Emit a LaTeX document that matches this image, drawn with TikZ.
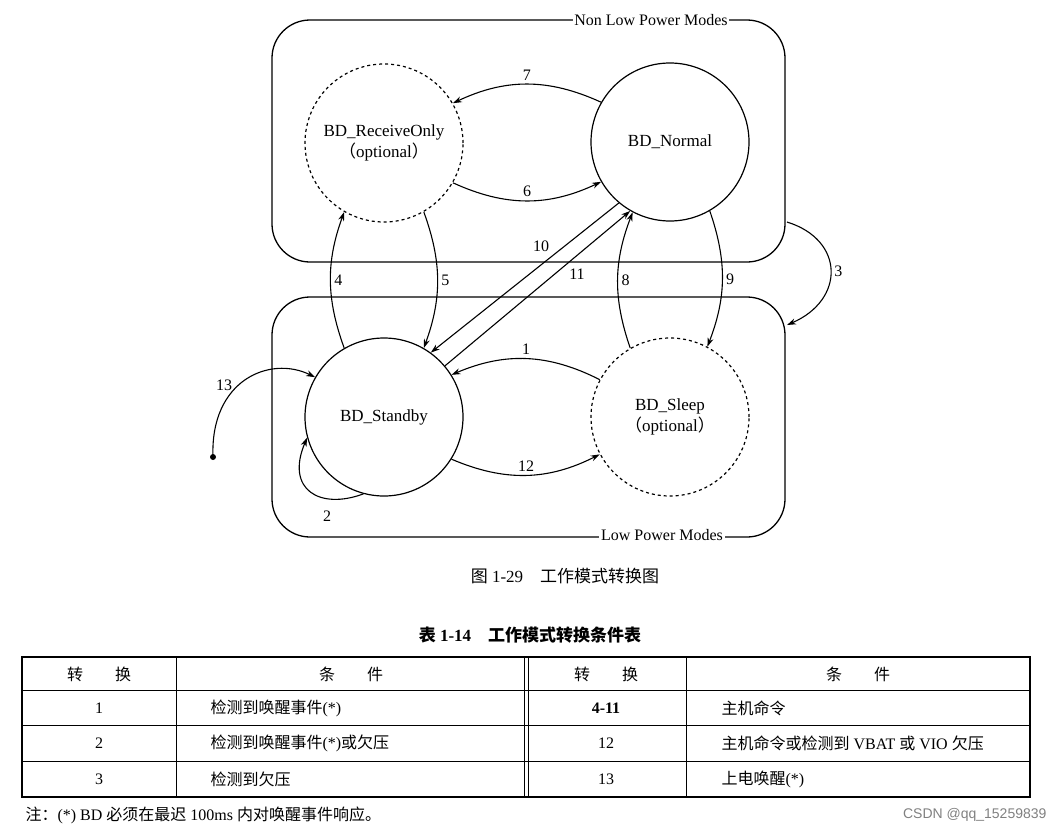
\documentclass[tikz,border=0pt]{standalone}
\usepackage{fontspec}
\setmainfont{Liberation Serif}
\newfontfamily\cjk{Noto Sans CJK SC}
\newfontfamily\wm{Liberation Sans}
\usetikzlibrary{arrows.meta}
\begin{document}
\begin{tikzpicture}[x=1pt,y=-1pt,
  st/.style={circle,draw,line width=1.2pt,minimum size=158pt,inner sep=0pt,align=center,font=\fontsize{17}{21}\selectfont},
  opt/.style={st,dashed},
  ar/.style={line width=1.1pt,-{Stealth[length=9pt,width=6pt]}},
  lb/.style={font=\fontsize{16}{18}\selectfont},
  tx/.style={font=\fontsize{16}{18}\selectfont},
  box/.style={line width=1.3pt,rounded corners=38pt}]
\useasboundingbox (0,0) rectangle (1055,833);
% mode boxes
\draw[box] (272,20) rectangle (785,262);
\node[lb,fill=white,inner xsep=1pt,inner ysep=1pt] (nlp) at (651,20) {Non Low Power Modes};
\draw[box] (272,297) rectangle (785,537);
\node[lb,fill=white,inner xsep=2pt,inner ysep=1pt] (lp) at (662,535) {Low Power Modes};
% states
\node[opt] (ro) at (384,143) {BD\_ReceiveOnly\\{\cjk （}optional{\cjk ）}};
\node[st] (no) at (670,142) {BD\_Normal};
\node[st] (sb) at (384,417) {BD\_Standby};
\node[opt] (sl) at (670,417) {BD\_Sleep\\{\cjk （}optional{\cjk ）}};
% arrows
\draw[ar] (no.150) to[bend right=25] node[lb,above]{7} (ro.30);
\draw[ar] (ro.-30) to[bend right=25] node[lb,above]{6} (no.-150);
\draw[ar] (sb.120) to[bend left=20] node[lb,right,pos=0.5]{4} (ro.-120);
\draw[ar] (ro.-60) to[bend left=20] node[lb,right,pos=0.5]{5} (sb.60);
\draw[ar] (no.-130) -- node[lb,above left,pos=0.35]{10} (sb.54);
\draw[ar] (sb.40) -- node[lb,below right,pos=0.65]{11} (no.-120);
\draw[ar] (sl.120) to[bend left=20] node[lb,right]{8} (no.-118);
\draw[ar] (no.-60) to[bend left=20] node[lb,right]{9} (sl.62);
\draw[ar] (sl.152) to[bend right=25] node[lb,above]{1} (sb.32);
\draw[ar] (sb.-32) to[bend right=25] node[lb,above]{12} (sl.-152);
\coordinate (t3) at (787,222);
\coordinate (b3) at (787,325);
\draw[ar] (t3) .. controls (845,240) and (845,300) .. node[lb,right,pos=0.5]{3} (b3);
\coordinate (d13) at (213,457);
\fill (d13) circle (3pt);
\draw[ar] (d13) .. controls (210,380) and (270,355) .. (sb.150);
\node[lb] (l13) at (224,385) {13};
\draw[ar] (sb.-105) .. controls (320,510) and (285,490) .. (sb.-165);
\node[lb] (l2) at (327,516) {2};
% captions
\node[font=\fontsize{17}{19}\selectfont] (cap) at (565,576) {{\cjk 图} 1-29\quad{\cjk 工作模式转换图}};
\node[font=\fontsize{17}{19}\selectfont\bfseries] (tt) at (530,635) {{\cjk\bfseries 表} 1-14\quad{\cjk\bfseries 工作模式转换条件表}};
% table
\draw[line width=2pt] (22,657) rectangle (1030,797);
\foreach \y in {690,725,761} \draw[line width=1pt] (22,\y) -- (1030,\y);
\foreach \x in {176,686} \draw[line width=1pt] (\x,657) -- (\x,797);
\draw[line width=1pt] (524,657) -- (524,797);
\draw[line width=1pt] (528,657) -- (528,797);
\node[tx] (h1) at (99,674) {\cjk 转\qquad 换};
\node[tx] (h2) at (351,674) {\cjk 条\qquad 件};
\node[tx] (h3) at (606,674) {\cjk 转\qquad 换};
\node[tx] (h4) at (858,674) {\cjk 条\qquad 件};
\node[tx] (a1) at (99,708) {1};
\node[tx] (a2) at (99,743) {2};
\node[tx] (a3) at (99,779) {3};
\node[tx,anchor=west] (c1) at (207,708) {{\cjk 检测到唤醒事件}(*)};
\node[tx,anchor=west] (c2) at (207,743) {{\cjk 检测到唤醒事件}(*){\cjk 或欠压}};
\node[tx,anchor=west] (c3) at (207,779) {\cjk 检测到欠压};
\node[tx,font=\fontsize{16}{18}\selectfont\bfseries] (b1) at (606,708) {4-11};
\node[tx] (b2) at (606,743) {12};
\node[tx] (b3x) at (606,779) {13};
\node[tx,anchor=west] (d1) at (718,708) {\cjk 主机命令};
\node[tx,anchor=west] (d2) at (718,743) {{\cjk 主机命令或检测到} VBAT {\cjk 或} VIO {\cjk 欠压}};
\node[tx,anchor=west] (d3) at (718,779) {{\cjk 上电唤醒}(*)};
\node[tx,anchor=west] (note) at (22,815) {{\cjk 注：}(*) BD {\cjk 必须在最迟} 100ms {\cjk 内对唤醒事件响应。}};
\node[anchor=east,text=gray,font=\wm\fontsize{14}{16}\selectfont] (wmk) at (1050,815) {CSDN @qq\_15259839};
\end{tikzpicture}
\end{document}
